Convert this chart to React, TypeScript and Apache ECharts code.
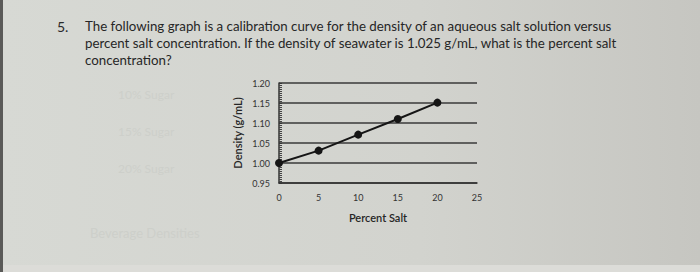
import React, { useEffect, useRef } from "react";
import * as echarts from "echarts";

const percentSalt = [0, 5, 10, 15, 20];
const density = [1.0, 1.031, 1.071, 1.11, 1.151];
const questionLines = [
  "The following graph is a calibration curve for the density of an aqueous salt solution versus",
  "percent salt concentration. If the density of seawater is 1.025 g/mL, what is the percent salt",
  "concentration?",
];
const ghostLabels = ["10% Sugar", "15% Sugar", "20% Sugar"];
const ghostTitle = "Beverage Densities";

const FONT = "Lato, 'Open Sans', sans-serif";

export default function App() {
  const ref = useRef<HTMLDivElement>(null);
  useEffect(() => {
    document.body.style.margin = "0";
    const chart = echarts.init(ref.current!, null, { renderer: "svg" });
    const graphics: any[] = [
      {
        type: "rect",
        z: -10,
        shape: { x: 0, y: 0, width: 700, height: 272 },
        style: {
          fill: new echarts.graphic.LinearGradient(0, 0, 1, 0, [
            { offset: 0, color: "#d7d9d4" },
            { offset: 0.6, color: "#d2d3ce" },
            { offset: 1, color: "#c6c6c1" },
          ]),
        },
      },
      { type: "rect", z: -9, shape: { x: 0, y: 0, width: 3, height: 272 }, style: { fill: "#5a5a58" } },
      { type: "rect", z: -9, shape: { x: 3, y: 265, width: 697, height: 7 }, style: { fill: "#dcdcd8" } },
      {
        type: "text",
        left: 57,
        top: 19,
        style: { text: "5.", font: `14px ${FONT}`, fill: "#2a2a2a" },
      },
      ...questionLines.map((t, i) => ({
        type: "text",
        left: 85,
        top: 19 + i * 17,
        style: { text: t, font: `13.3px ${FONT}`, fill: "#262626" },
      })),
      ...ghostLabels.map((t, i) => ({
        type: "text",
        left: 118,
        top: 88 + i * 37,
        z: -5,
        style: { text: t, font: `12px ${FONT}`, fill: "#cdcfca" },
      })),
      {
        type: "text",
        left: 90,
        top: 226,
        z: -5,
        style: { text: ghostTitle, font: `13px ${FONT}`, fill: "#cdcfca" },
      },
    ];
    chart.setOption({
      animation: false,
      graphic: graphics,
      grid: { left: 279, right: 223, top: 83, bottom: 89, containLabel: false },
      xAxis: {
        type: "value",
        min: 0,
        max: 25,
        interval: 5,
        name: "Percent Salt",
        nameLocation: "middle",
        nameGap: 29,
        nameTextStyle: { fontFamily: FONT, fontSize: 11, fontWeight: 600, color: "#262626" },
        axisLine: { show: true, lineStyle: { color: "#333", width: 1.5 } },
        axisTick: { show: false },
        splitLine: { show: false },
        axisLabel: { margin: 10, fontFamily: FONT, fontSize: 9, color: "#333" },
      },
      yAxis: {
        type: "value",
        min: 0.95,
        max: 1.2,
        interval: 0.05,
        name: "Density (g/mL)",
        nameLocation: "middle",
        nameGap: 36,
        nameRotate: 90,
        nameTextStyle: { fontFamily: FONT, fontSize: 11, fontWeight: 600, color: "#262626" },
        axisLine: { show: true, lineStyle: { color: "#333", width: 1.5 } },
        axisTick: { show: true, inside: true, length: 3, lineStyle: { color: "#333" } },
        minorTick: { show: true, splitNumber: 10, length: 3, lineStyle: { color: "#444" } },
        splitLine: { show: true, lineStyle: { color: "#3a3a3a", width: 1.5 } },
        axisLabel: {
          margin: 9,
          fontFamily: FONT,
          fontSize: 9,
          color: "#333",
          formatter: (v: number) => v.toFixed(2),
        },
      },
      series: [
        {
          type: "line",
          data: percentSalt.map((x, i) => [x, density[i]]),
          symbol: "circle",
          symbolSize: 8,
          lineStyle: { color: "#151515", width: 2 },
          itemStyle: { color: "#151515" },
        },
      ],
    });
    return () => chart.dispose();
  }, []);
  return <div ref={ref} style={{ width: 700, height: 272 }} />;
}
